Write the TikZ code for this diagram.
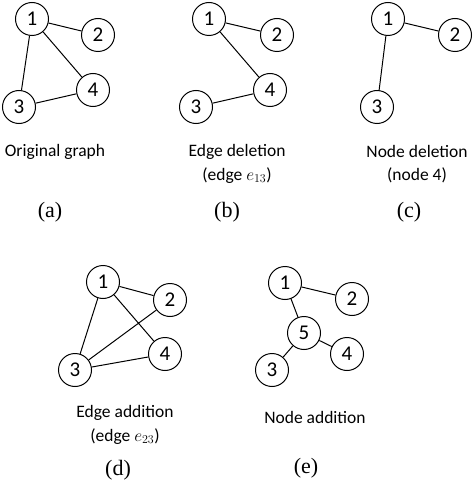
\documentclass[tikz,border=0pt]{standalone}
\usepackage{fontspec}
\setmainfont{Carlito}
\newfontfamily\tnr{Liberation Serif}
\begin{document}
\begin{tikzpicture}[x=1pt,y=-1pt,
  vtx/.style={circle,draw,line width=1pt,minimum size=33pt,inner sep=0pt,font=\fontsize{21}{21}\selectfont},
  edg/.style={line width=1pt},
  captxt/.style={font=\fontsize{17.5}{23.5}\selectfont,align=center},
  sub/.style={font=\tnr\fontsize{22}{22}\selectfont}]
\useasboundingbox (0,0) rectangle (474,492);
% (a)
\node[vtx] (a1) at (32,19) {1};
\node[vtx] (a2) at (98,35) {2};
\node[vtx] (a4) at (93,90) {4};
\node[vtx] (a3) at (19,107) {3};
\draw[edg] (a1)--(a2) (a1)--(a4) (a1)--(a3) (a3)--(a4);
\node[captxt] (ca) at (55,152) {Original graph};
\node[sub] (la) at (50,212) {(a)};
% (b)
\node[vtx] (b1) at (209,19) {1};
\node[vtx] (b2) at (277,35) {2};
\node[vtx] (b4) at (270,90) {4};
\node[vtx] (b3) at (196,107) {3};
\draw[edg] (b1)--(b2) (b1)--(b4) (b3)--(b4);
\node[captxt] (cb) at (237,164) {Edge deletion\\(edge $e_{13}$)};
\node[sub] (lb) at (227,212) {(b)};
% (c)
\node[vtx] (c1) at (388,19) {1};
\node[vtx] (c2) at (455,35) {2};
\node[vtx] (c3) at (377,107) {3};
\draw[edg] (c1)--(c2) (c1)--(c3);
\node[captxt] (cc) at (417,164) {Node deletion\\(node 4)};
\node[sub] (lc) at (409,212) {(c)};
% (d)
\node[vtx] (d1) at (103,282) {1};
\node[vtx] (d2) at (170,300) {2};
\node[vtx] (d4) at (165,354) {4};
\node[vtx] (d3) at (75,370) {3};
\draw[edg] (d1)--(d2) (d1)--(d4) (d1)--(d3) (d3)--(d4) (d3)--(d2);
\node[captxt] (cd) at (125,425) {Edge addition\\(edge $e_{23}$)};
\node[sub] (ld) at (118,470) {(d)};
% (e)
\node[vtx] (e1) at (285,283) {1};
\node[vtx] (e2) at (352,299) {2};
\node[vtx] (e5) at (304,333) {5};
\node[vtx] (e4) at (347,354) {4};
\node[vtx] (e3) at (272,370) {3};
\draw[edg] (e1)--(e2) (e1)--(e5) (e5)--(e4) (e5)--(e3);
\node[captxt] (ce) at (315,417) {Node addition};
\node[sub] (le) at (306,468) {(e)};
\end{tikzpicture}
\end{document}
